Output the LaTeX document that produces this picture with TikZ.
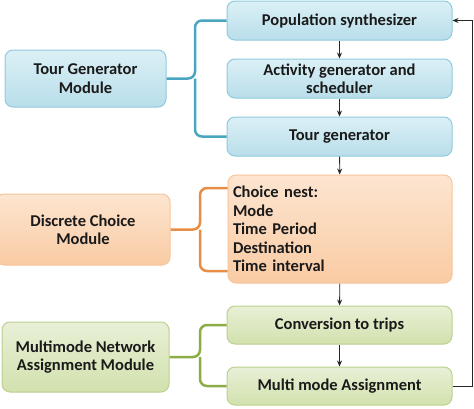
\documentclass[tikz,border=0pt]{standalone}
\usepackage{fontspec}
\setmainfont{Carlito}
\usetikzlibrary{calc,arrows.meta}
\definecolor{bluetop}{HTML}{DCF0F6}
\definecolor{bluebot}{HTML}{B8DEEA}
\definecolor{blueline}{HTML}{8FCBDD}
\definecolor{bluebrace}{HTML}{4AA5C0}
\definecolor{orangetop}{HTML}{FDE5D0}
\definecolor{orangebot}{HTML}{F9CBA3}
\definecolor{orangeline}{HTML}{F5C59B}
\definecolor{orangebrace}{HTML}{E88D45}
\definecolor{greentop}{HTML}{E8F0D6}
\definecolor{greenbot}{HTML}{D2E1AE}
\definecolor{greenline}{HTML}{BBD18E}
\definecolor{greenbrace}{HTML}{8AAD45}
\definecolor{textcol}{HTML}{1A1A1A}
\tikzset{
  box/.style={rounded corners=8pt, line width=1pt, inner sep=0pt, align=center,
    text=textcol, font=\fontsize{16.5}{18.4}\selectfont\bfseries},
  bluebox/.style={box, draw=blueline, top color=bluetop, bottom color=bluebot},
  orangebox/.style={box, draw=orangeline, top color=orangetop, bottom color=orangebot},
  greenbox/.style={box, draw=greenline, top color=greentop, bottom color=greenbot},
  brace/.style={line width=2.5pt, rounded corners=7pt},
  flow/.style={-{Stealth[length=6pt,width=5pt]}, line width=0.8pt, draw=black!85}
}
\begin{document}
\begin{tikzpicture}[x=1pt,y=-1pt]
  \useasboundingbox[fill=white] (0,0) rectangle (474,408);

  % right column
  \node[bluebox, minimum width=225, minimum height=39] (pop) at (339.5,20.5) {Population synthesizer};
  \node[bluebox, minimum width=225, minimum height=39] (act) at (339.5,78.5) {Activity generator and\\scheduler};
  \node[bluebox, minimum width=225, minimum height=39] (tour) at (339.5,136.5) {Tour generator};
  \node[orangebox, minimum width=224, minimum height=108, text width=214, align=left] (choice) at (340,229)
    {Choice nest:\\Mode\\Time Period\\Destination\\Time interval};
  \node[greenbox, minimum width=225, minimum height=38] (conv) at (339.5,325) {Conversion to trips};
  \node[greenbox, minimum width=225, minimum height=38] (multi) at (339.5,386) {Multi mode Assignment};

  % modules
  \node[bluebox, minimum width=161, minimum height=57] (tgm) at (85.5,78.5) {Tour Generator\\Module};
  \node[orangebox, minimum width=174, minimum height=71] (dcm) at (83,229.5) {Discrete Choice\\Module};
  \node[greenbox, minimum width=167, minimum height=70] (mnam) at (85.5,357) {Multimode Network\\Assignment Module};

  % braces
  \coordinate (tgmb) at (195,78.5);
  \draw[brace, bluebrace] (pop.west) -| (tgmb) -- (tgm.east);
  \draw[brace, bluebrace] (tour.west) -| (tgmb);

  \coordinate (dcmb) at (200,229.5);
  \draw[brace, orangebrace] ($(choice.west)+(0,-41)$) -| (dcmb) -- (dcm.east);
  \draw[brace, orangebrace] ($(choice.west)+(0,42)$) -| (dcmb);

  \coordinate (mnamb) at (200,357);
  \draw[brace, greenbrace] (conv.west) -| (mnamb) -- (mnam.east);
  \draw[brace, greenbrace] (multi.west) -| (mnamb);

  % flow
  \draw[flow] (pop) -- (act);
  \draw[flow] (act) -- (tour);
  \draw[flow] (tour) -- (choice);
  \draw[flow] (choice) -- (conv);
  \draw[flow] (conv) -- (multi);

  \coordinate (back) at (472,386);
  \draw[flow] (multi.east) -- (back) |- (pop.east);
\end{tikzpicture}
\end{document}
